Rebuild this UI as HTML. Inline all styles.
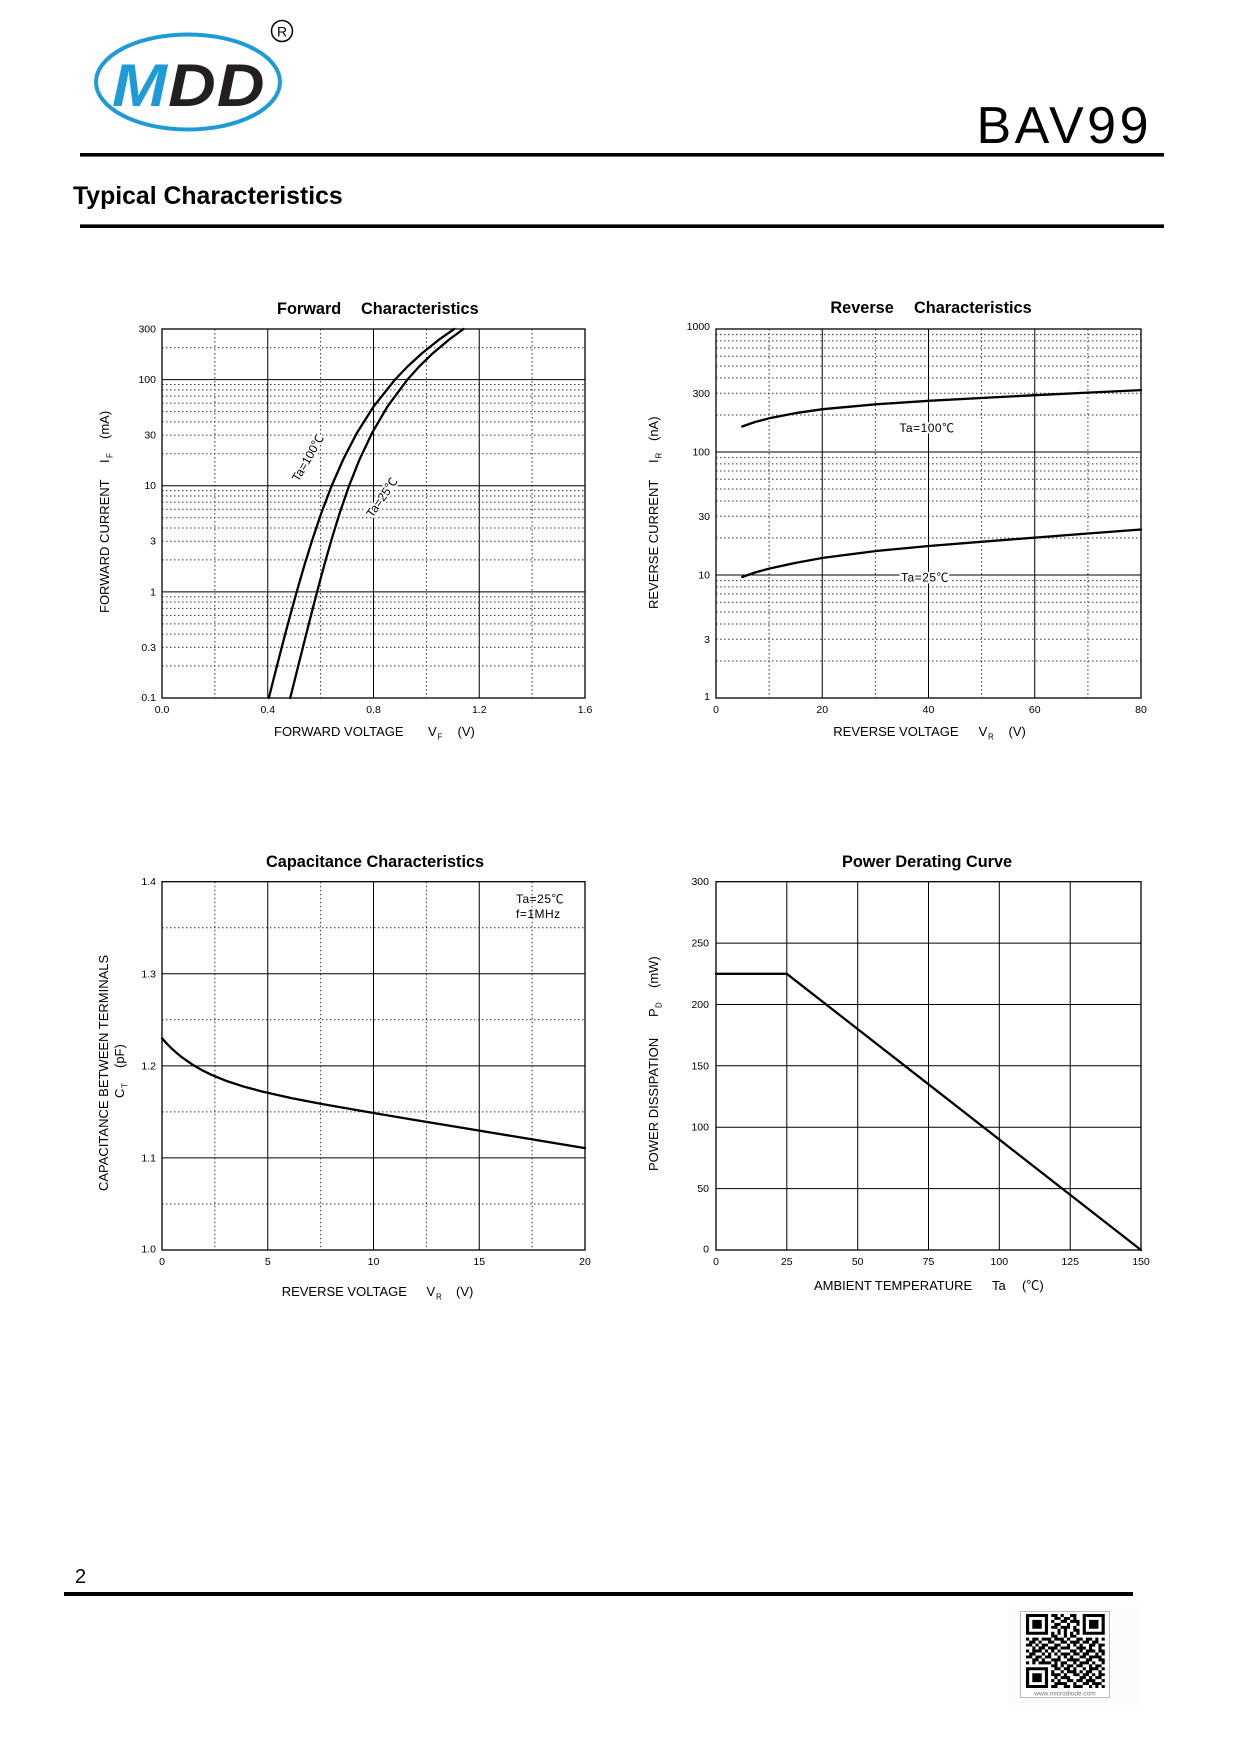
<!DOCTYPE html>
<html><head><meta charset="utf-8"><style>
html,body{margin:0;padding:0;background:#fff;}
svg{display:block;}
text{font-family:"Liberation Sans","Noto Sans CJK SC",sans-serif;fill:#000;}
.tk{font-size:10.5px;}
.at{font-size:13px;}
.sb{font-size:8px;}
.tt{font-size:16.3px;font-weight:bold;}
.lb{font-size:12px;}
.halo{stroke:#fff;stroke-width:4px;paint-order:stroke;stroke-linejoin:round;}
.dot{stroke:#333;stroke-width:1;stroke-dasharray:1.5 2.5;fill:none;}
.sol{stroke:#000;stroke-width:1;fill:none;}
.brd{stroke:#000;stroke-width:1.3;fill:none;}
.crv{stroke:#000;stroke-width:2.3;fill:none;stroke-linejoin:round;stroke-linecap:round;}
</style></head><body>
<svg width="1240" height="1754" viewBox="0 0 1240 1754" xmlns="http://www.w3.org/2000/svg">
<rect width="1240" height="1754" fill="#fff"/>

<!-- Header logo -->
<ellipse cx="188" cy="82" rx="92" ry="47.5" fill="none" stroke="#1e9ad8" stroke-width="4"/>
<text transform="translate(112,106) scale(1.1,1)" x="0" y="0" style="font-size:60px;font-weight:bold;font-style:italic;letter-spacing:1px;"><tspan style="fill:#1e9ad8">M</tspan><tspan style="fill:#231f20">DD</tspan></text>
<circle cx="282" cy="31" r="10.5" fill="none" stroke="#000" stroke-width="1.5"/>
<text x="282" y="36.5" text-anchor="middle" style="font-size:14px;">R</text>

<text x="1152" y="143" text-anchor="end" style="font-size:52px;letter-spacing:3.5px;">BAV99</text>
<rect x="80" y="153" width="1084" height="3.6" fill="#000"/>
<text x="73" y="204" style="font-size:24.8px;font-weight:bold;">Typical Characteristics</text>
<rect x="80" y="224.4" width="1084" height="3.6" fill="#000"/>

<!-- ================= Forward chart ================= -->
<text class="tt" x="277" y="314">Forward</text>
<text class="tt" x="361" y="314">Characteristics</text>
<path class="dot" d="M214.9 329V698M320.6 329V698M426.4 329V698M532.1 329V698
M162 666.05H585M162 647.37H585M162 634.11H585M162 623.83H585M162 615.42H585M162 608.32H585M162 602.16H585M162 596.74H585
M162 559.93H585M162 541.25H585M162 527.99H585M162 517.71H585M162 509.30H585M162 502.20H585M162 496.04H585M162 490.62H585
M162 453.81H585M162 435.13H585M162 421.87H585M162 411.59H585M162 403.18H585M162 396.08H585M162 389.92H585M162 384.50H585
M162 347.69H585"/>
<path class="sol" d="M267.75 329V698M373.5 329V698M479.25 329V698M162 591.88H585M162 485.76H585M162 379.64H585"/>
<rect class="brd" x="162" y="329" width="423" height="369"/>
<polyline class="crv" points="268.8,698 275.5,671.47 282.35,644.94 289.38,618.41 296.68,591.88 304.37,565.35 312.6,538.82 321.6,512.29 331.68,485.76 343.29,459.23 357.05,432.7 373.86,406.17 394.98,379.64 407.68,366.38 422.18,353.11 438.76,339.84 454.2,329"/>
<polyline class="crv" points="290.2,698 296.84,671.47 303.5,644.94 310.22,618.41 317.08,591.88 324.21,565.35 331.75,538.82 339.94,512.29 349.08,485.76 359.63,459.23 372.2,432.7 387.7,406.17 407.38,379.64 419.31,366.38 433.02,353.11 448.77,339.84 463.51,329"/>
<g transform="translate(308,458) rotate(-60)"><text class="lb halo" x="0" y="4" text-anchor="middle">Ta=100℃</text></g>
<g transform="translate(382,497.5) rotate(-55)"><text class="lb halo" x="0" y="4" text-anchor="middle">Ta=25℃</text></g>
<g text-anchor="end">
<text class="tk" x="156" y="332.5">300</text>
<text class="tk" x="156" y="383">100</text>
<text class="tk" x="156" y="438.5">30</text>
<text class="tk" x="156" y="489">10</text>
<text class="tk" x="156" y="544.5">3</text>
<text class="tk" x="156" y="595.5">1</text>
<text class="tk" x="156" y="651">0.3</text>
<text class="tk" x="156" y="701">0.1</text>
</g>
<g text-anchor="middle">
<text class="tk" x="162" y="713">0.0</text>
<text class="tk" x="267.75" y="713">0.4</text>
<text class="tk" x="373.5" y="713">0.8</text>
<text class="tk" x="479.25" y="713">1.2</text>
<text class="tk" x="585" y="713">1.6</text>
</g>
<text class="at" x="274" y="736">FORWARD VOLTAGE</text>
<text class="at" x="428" y="736">V</text>
<text class="sb" x="437.5" y="739.5">F</text>
<text class="at" x="457.5" y="736">(V)</text>
<text class="at" transform="translate(109,613) rotate(-90)">FORWARD CURRENT</text>
<text class="at" transform="translate(109,463) rotate(-90)">I</text>
<text class="sb" transform="translate(112.5,458) rotate(-90)">F</text>
<text class="at" transform="translate(109,439) rotate(-90)">(mA)</text>

<!-- ================= Reverse chart ================= -->
<text class="tt" x="830.4" y="313">Reverse</text>
<text class="tt" x="914" y="313">Characteristics</text>
<path class="dot" d="M769.1 329V698M875.4 329V698M981.6 329V698M1087.9 329V698
M716 660.97H1141M716 639.31H1141M716 623.95H1141M716 612.03H1141M716 602.29H1141M716 594.05H1141M716 586.92H1141M716 580.63H1141
M716 537.97H1141M716 516.31H1141M716 500.95H1141M716 489.03H1141M716 479.29H1141M716 471.05H1141M716 463.92H1141M716 457.63H1141
M716 414.97H1141M716 393.31H1141M716 377.95H1141M716 366.03H1141M716 356.29H1141M716 348.05H1141M716 340.92H1141M716 334.63H1141"/>
<path class="sol" d="M822.25 329V698M928.5 329V698M1034.75 329V698M716 575H1141M716 452H1141"/>
<rect class="brd" x="716" y="329" width="425" height="369"/>
<polyline class="crv" points="742.2,426.5 755,422 769.1,418.3 795,413.2 822.8,409.2 877,404.2 929,400.8 981,398 1034.8,395.2 1088,392.6 1141,390.1"/>
<polyline class="crv" points="742.2,577 755,572.5 769.1,568.6 795,563 822.8,557.9 877,550.9 929,546 981,541.8 1034.8,537.6 1088,533.5 1141,529.5"/>
<text class="lb halo" x="927" y="432" text-anchor="middle" style="letter-spacing:0.5px">Ta=100℃</text>
<text class="lb halo" x="925" y="581.5" text-anchor="middle" style="letter-spacing:0.5px">Ta=25℃</text>
<g text-anchor="end">
<text class="tk" x="710" y="330">1000</text>
<text class="tk" x="710" y="397">300</text>
<text class="tk" x="710" y="455.5">100</text>
<text class="tk" x="710" y="520">30</text>
<text class="tk" x="710" y="578.5">10</text>
<text class="tk" x="710" y="643">3</text>
<text class="tk" x="710" y="700">1</text>
</g>
<g text-anchor="middle">
<text class="tk" x="716" y="713">0</text>
<text class="tk" x="822.25" y="713">20</text>
<text class="tk" x="928.5" y="713">40</text>
<text class="tk" x="1034.75" y="713">60</text>
<text class="tk" x="1141" y="713">80</text>
</g>
<text class="at" x="833.3" y="736">REVERSE VOLTAGE</text>
<text class="at" x="978.6" y="736">V</text>
<text class="sb" x="988" y="739.5">R</text>
<text class="at" x="1008.5" y="736">(V)</text>
<text class="at" transform="translate(658,609) rotate(-90)">REVERSE CURRENT</text>
<text class="at" transform="translate(658,463) rotate(-90)">I</text>
<text class="sb" transform="translate(661.5,458.5) rotate(-90)">R</text>
<text class="at" transform="translate(658,441) rotate(-90)">(nA)</text>

<!-- ================= Capacitance chart ================= -->
<text class="tt" x="266" y="867">Capacitance Characteristics</text>
<path class="dot" d="M214.9 881.7V1250M320.6 881.7V1250M426.4 881.7V1250M532.1 881.7V1250
M162 1204H585M162 1111.9H585M162 1019.8H585M162 927.7H585"/>
<path class="sol" d="M267.75 881.7V1250M373.5 881.7V1250M479.25 881.7V1250M162 1157.9H585M162 1065.9H585M162 973.8H585"/>
<rect class="brd" x="162" y="881.7" width="423" height="368.3"/>
<polyline class="crv" points="162,1038.3 167,1043.83 172,1048.8 177,1053.28 182,1057.34 192,1064.35 202,1070.18 212,1075.09 227,1081.15 242,1086.09 262,1091.52 292,1098.2 322,1103.97 362,1111.03 412,1119.47 462,1127.78 512,1136.05 585,1148.1"/>
<text class="lb" x="516" y="903" style="letter-spacing:0.5px">Ta=25℃</text>
<text class="lb" x="516" y="918" style="letter-spacing:0.5px">f=1MHz</text>
<g text-anchor="end">
<text class="tk" x="156" y="885">1.4</text>
<text class="tk" x="156" y="977.3">1.3</text>
<text class="tk" x="156" y="1069.4">1.2</text>
<text class="tk" x="156" y="1161.4">1.1</text>
<text class="tk" x="156" y="1252.5">1.0</text>
</g>
<g text-anchor="middle">
<text class="tk" x="162" y="1265">0</text>
<text class="tk" x="267.75" y="1265">5</text>
<text class="tk" x="373.5" y="1265">10</text>
<text class="tk" x="479.25" y="1265">15</text>
<text class="tk" x="585" y="1265">20</text>
</g>
<text class="at" x="281.7" y="1296">REVERSE VOLTAGE</text>
<text class="at" x="426.5" y="1296">V</text>
<text class="sb" x="436" y="1299.5">R</text>
<text class="at" x="456" y="1296">(V)</text>
<text class="at" transform="translate(108,1191) rotate(-90)">CAPACITANCE BETWEEN TERMINALS</text>
<text class="at" transform="translate(124,1098) rotate(-90)">C</text>
<text class="sb" transform="translate(127.5,1088) rotate(-90)">T</text>
<text class="at" transform="translate(124,1068) rotate(-90)">(pF)</text>

<!-- ================= Power chart ================= -->
<text class="tt" x="842" y="867">Power Derating Curve</text>
<path class="sol" d="M786.8 881.7V1250M857.7 881.7V1250M928.5 881.7V1250M999.3 881.7V1250M1070.2 881.7V1250
M716 1188.6H1141M716 1127.2H1141M716 1065.8H1141M716 1004.5H1141M716 943.1H1141"/>
<rect class="brd" x="716" y="881.7" width="425" height="368.3"/>
<path class="crv" d="M716 973.8H786.8L1141 1250"/>
<g text-anchor="end">
<text class="tk" x="709" y="885">300</text>
<text class="tk" x="709" y="946.6">250</text>
<text class="tk" x="709" y="1008">200</text>
<text class="tk" x="709" y="1069.3">150</text>
<text class="tk" x="709" y="1130.7">100</text>
<text class="tk" x="709" y="1192.1">50</text>
<text class="tk" x="709" y="1252.5">0</text>
</g>
<g text-anchor="middle">
<text class="tk" x="716" y="1265">0</text>
<text class="tk" x="786.8" y="1265">25</text>
<text class="tk" x="857.7" y="1265">50</text>
<text class="tk" x="928.5" y="1265">75</text>
<text class="tk" x="999.3" y="1265">100</text>
<text class="tk" x="1070.2" y="1265">125</text>
<text class="tk" x="1141" y="1265">150</text>
</g>
<text class="at" x="814" y="1290">AMBIENT TEMPERATURE</text>
<text class="at" x="992" y="1290">Ta</text>
<text class="at" x="1022" y="1290">(℃)</text>
<text class="at" transform="translate(658,1171) rotate(-90)">POWER DISSIPATION</text>
<text class="at" transform="translate(658,1017) rotate(-90)">P</text>
<text class="sb" transform="translate(661.5,1008) rotate(-90)">D</text>
<text class="at" transform="translate(658,988) rotate(-90)">(mW)</text>

<!-- ================= Footer ================= -->
<text x="75" y="1583" style="font-size:20px;">2</text>
<rect x="64" y="1592" width="1069" height="4" fill="#000"/>
<rect x="1008" y="1606" width="132" height="100" fill="#fcfcfc"/>
<rect x="1020.5" y="1611.5" width="89" height="86" fill="#fff" stroke="#bbb" stroke-width="1"/>
<g transform="translate(1026,1614) scale(3.15,2.96)">
<path fill="#000" d="
M0 0h7v1h-7zM8 0h2v1h-2zM11 0h1v1h-1zM14 0h2v1h-2zM18 0h7v1h-7z
M0 1h1v1h-1zM6 1h1v1h-1zM9 1h2v1h-2zM12 1h2v1h-2zM15 1h1v1h-1zM18 1h1v1h-1zM24 1h1v1h-1z
M0 2h1v1h-1zM2 2h3v1h-3zM6 2h1v1h-1zM8 2h1v1h-1zM11 2h2v1h-2zM14 2h3v1h-3zM18 2h1v1h-1zM20 2h3v1h-3zM24 2h1v1h-1z
M0 3h1v1h-1zM2 3h3v1h-3zM6 3h1v1h-1zM9 3h2v1h-2zM13 3h1v1h-1zM16 3h1v1h-1zM18 3h1v1h-1zM20 3h3v1h-3zM24 3h1v1h-1z
M0 4h1v1h-1zM2 4h3v1h-3zM6 4h1v1h-1zM8 4h2v1h-2zM11 4h3v1h-3zM15 4h1v1h-1zM18 4h1v1h-1zM20 4h3v1h-3zM24 4h1v1h-1z
M0 5h1v1h-1zM6 5h1v1h-1zM10 5h1v1h-1zM12 5h1v1h-1zM15 5h2v1h-2zM18 5h1v1h-1zM24 5h1v1h-1z
M0 6h7v1h-7zM8 6h1v1h-1zM10 6h1v1h-1zM12 6h1v1h-1zM14 6h1v1h-1zM16 6h1v1h-1zM18 6h7v1h-7z
M8 7h2v1h-2zM12 7h1v1h-1zM14 7h2v1h-2z
M0 8h1v1h-1zM2 8h2v1h-2zM5 8h3v1h-3zM9 8h3v1h-3zM13 8h1v1h-1zM16 8h2v1h-2zM19 8h2v1h-2zM22 8h1v1h-1zM24 8h1v1h-1z
M1 9h2v1h-2zM4 9h1v1h-1zM7 9h2v1h-2zM11 9h2v1h-2zM14 9h3v1h-3zM18 9h2v1h-2zM21 9h2v1h-2z
M0 10h2v1h-2zM3 10h1v1h-1zM5 10h2v1h-2zM9 10h2v1h-2zM13 10h1v1h-1zM15 10h1v1h-1zM17 10h1v1h-1zM20 10h2v1h-2zM23 10h2v1h-2z
M2 11h1v1h-1zM4 11h2v1h-2zM7 11h3v1h-3zM11 11h3v1h-3zM16 11h3v1h-3zM20 11h1v1h-1zM23 11h1v1h-1z
M0 12h1v1h-1zM2 12h3v1h-3zM6 12h1v1h-1zM8 12h1v1h-1zM10 12h1v1h-1zM14 12h2v1h-2zM17 12h1v1h-1zM19 12h3v1h-3zM23 12h2v1h-2z
M1 13h2v1h-2zM5 13h1v1h-1zM7 13h1v1h-1zM9 13h1v1h-1zM11 13h3v1h-3zM15 13h2v1h-2zM18 13h2v1h-2zM22 13h1v1h-1zM24 13h1v1h-1z
M0 14h2v1h-2zM3 14h2v1h-2zM6 14h2v1h-2zM10 14h1v1h-1zM12 14h1v1h-1zM14 14h1v1h-1zM17 14h2v1h-2zM20 14h4v1h-4z
M2 15h2v1h-2zM5 15h1v1h-1zM8 15h3v1h-3zM13 15h4v1h-4zM19 15h2v1h-2zM23 15h2v1h-2z
M0 16h1v1h-1zM2 16h1v1h-1zM4 16h4v1h-4zM9 16h1v1h-1zM11 16h2v1h-2zM15 16h1v1h-1zM17 16h3v1h-3zM21 16h1v1h-1zM24 16h1v1h-1z
M8 17h2v1h-2zM11 17h1v1h-1zM13 17h2v1h-2zM16 17h2v1h-2zM20 17h1v1h-1zM22 17h2v1h-2z
M0 18h7v1h-7zM9 18h2v1h-2zM12 18h2v1h-2zM15 18h1v1h-1zM18 18h1v1h-1zM20 18h3v1h-3zM24 18h1v1h-1z
M0 19h1v1h-1zM6 19h1v1h-1zM8 19h1v1h-1zM11 19h1v1h-1zM13 19h3v1h-3zM17 19h1v1h-1zM19 19h2v1h-2zM23 19h1v1h-1z
M0 20h1v1h-1zM2 20h3v1h-3zM6 20h1v1h-1zM8 20h3v1h-3zM12 20h1v1h-1zM15 20h2v1h-2zM18 20h2v1h-2zM21 20h1v1h-1zM23 20h2v1h-2z
M0 21h1v1h-1zM2 21h3v1h-3zM6 21h1v1h-1zM9 21h1v1h-1zM11 21h3v1h-3zM17 21h2v1h-2zM20 21h1v1h-1zM22 21h2v1h-2z
M0 22h1v1h-1zM2 22h3v1h-3zM6 22h1v1h-1zM8 22h1v1h-1zM10 22h1v1h-1zM13 22h2v1h-2zM16 22h2v1h-2zM19 22h3v1h-3zM24 22h1v1h-1z
M0 23h1v1h-1zM6 23h1v1h-1zM9 23h4v1h-4zM15 23h1v1h-1zM18 23h2v1h-2zM21 23h3v1h-3z
M0 24h7v1h-7zM8 24h2v1h-2zM12 24h2v1h-2zM15 24h3v1h-3zM20 24h1v1h-1zM22 24h1v1h-1zM24 24h1v1h-1z"/>
</g>
<text x="1065" y="1695.5" text-anchor="middle" style="font-size:6.5px;fill:#777;">www.microdiode.com</text>
</svg>
</body></html>
